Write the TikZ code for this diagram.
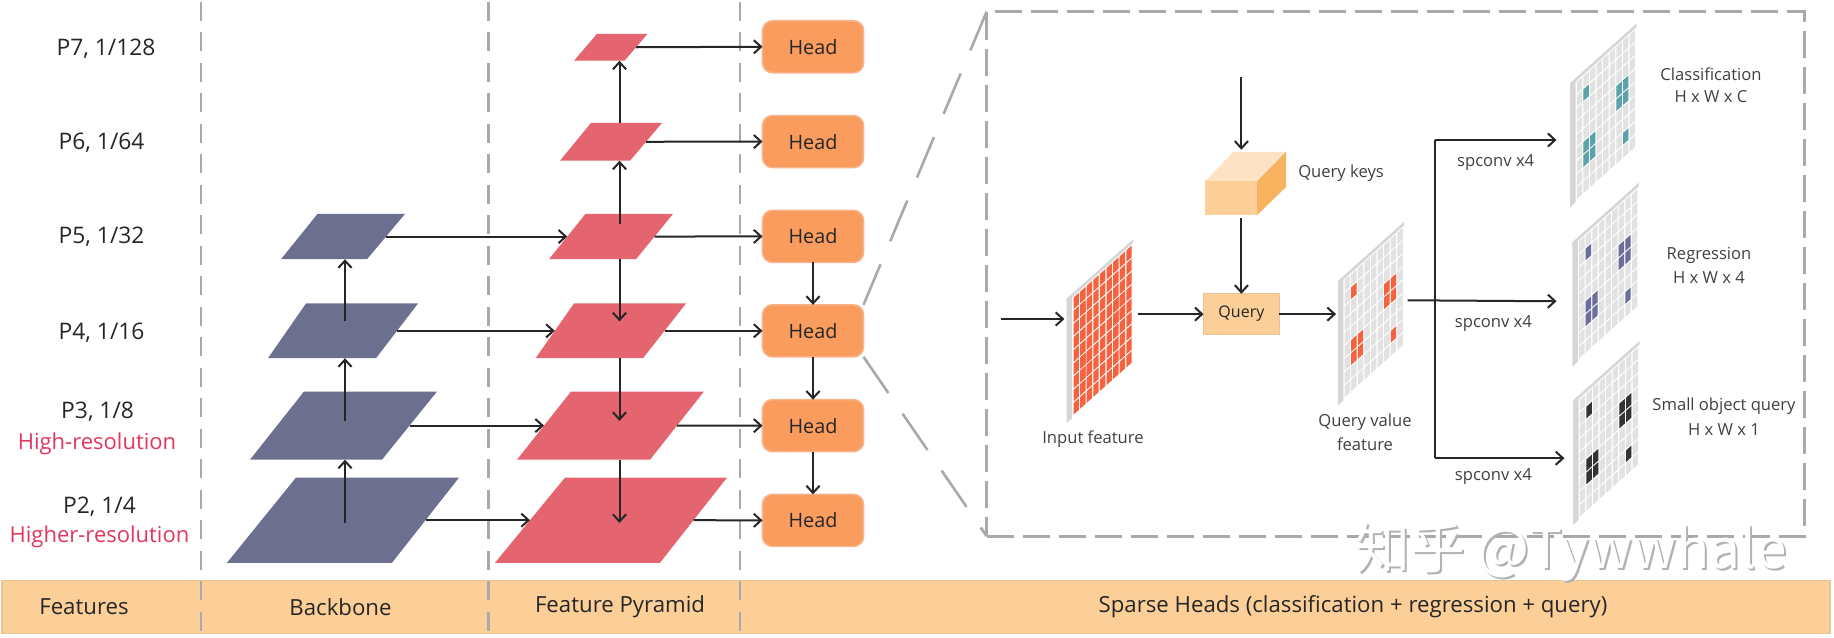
\documentclass[tikz,border=0pt]{standalone}
\usepackage{fontspec}
\setmainfont{Open Sans}
\newfontfamily\wmfont{Noto Sans CJK SC}
\usetikzlibrary{arrows.meta}
\definecolor{barc}{HTML}{FBCF97}
\definecolor{bluep}{HTML}{6C6F8D}
\definecolor{redp}{HTML}{E4646F}
\definecolor{headc}{HTML}{FA9C5E}
\definecolor{headl}{HTML}{F8B288}
\definecolor{dashc}{HTML}{A9A9A9}
\definecolor{pinkt}{HTML}{E2365F}
\definecolor{cubetop}{HTML}{FDE3C4}
\definecolor{cubeside}{HTML}{F6B25E}
\definecolor{hotred}{HTML}{F4623F}
\definecolor{hotteal}{HTML}{5BA3AB}
\definecolor{hotblue}{HTML}{6C6F9E}
\definecolor{hotblack}{HTML}{333333}
\definecolor{cellg}{HTML}{E2E2E2}
\definecolor{edgeg}{HTML}{D6D6D6}
\definecolor{txtd}{HTML}{262626}
\definecolor{txtg}{HTML}{404040}
\tikzset{
  arr/.style={-{Straight Barb[length=3.6pt,width=6.6pt]},line width=1pt,black!85},
  lab/.style={font=\fontsize{11.4}{13}\selectfont,text=txtd,inner sep=0pt,yshift=-0.8pt},
  pinklab/.style={font=\fontsize{11}{13}\selectfont,text=pinkt,inner sep=0pt,yshift=-0.8pt},
  barlab/.style={font=\fontsize{11.1}{13}\selectfont,text=txtd,inner sep=0pt},
  small/.style={font=\fontsize{8.3}{10}\selectfont,text=txtg,inner sep=0pt},
  headbox/.style={draw=headl,line width=0.8pt,fill=headc,rounded corners=5pt,minimum width=50.5pt,minimum height=26pt,inner sep=0pt,outer sep=0pt,font=\fontsize{9.9}{12}\selectfont,text=txtd},
  vdash/.style={dashc,line width=1.2pt,dash pattern=on 9.5pt off 5.75pt},
  diag/.style={dashc,line width=1.3pt,dash pattern=on 22pt off 12.5pt},
  anchorbox/.style={inner sep=0pt,outer sep=0pt}
}
% parallelogram: name, colour, top y, bottom y, top-left x, top-right x, bottom-left x, bottom-right x
\newcommand{\parag}[8]{%
  \fill[#2] (#5,#3) -- (#6,#3) -- (#8,#4) -- (#7,#4) -- cycle;
  \pgfmathsetmacro{\pcx}{(#5+#6+#7+#8)/4}
  \pgfmathsetmacro{\pcy}{(#3+#4)/2}
  \pgfmathsetmacro{\pw}{((#6+#8)-(#5+#7))/4}
  \pgfmathsetmacro{\ph}{(#4-#3)*0.4975}
  \node[anchorbox,minimum width=\pw pt,minimum height=\ph pt] (#1) at (\pcx,\pcy) {};
}
% feature plate: name, x, y, base cell colour, hot cell colour
\newcommand{\plate}[5]{%
  \begin{scope}[shift={(#2,#3)},yslant=0.894]
    \fill[edgeg] (0,0) rectangle (5.5,124.5);
    \fill[edgeg] (0,-0.5) rectangle (66.5,3);
    \foreach \i in {0,...,8}{\foreach \j in {0,...,8}{
      \fill[#4] ({6.8+6.6*\i},{4.6+13.25*\j}) rectangle ++(5.4,11.6);
    }}
    \foreach \i/\j in {1/1,6/3,7/3,6/4,7/4,1/5,2/5,1/6,2/6,7/7}{
      \fill[#5] ({6.8+6.6*\i},{4.6+13.25*\j}) rectangle ++(5.4,11.6);
    }
  \end{scope}
  \node[anchorbox,minimum width=33pt,minimum height=61pt] (#1) at ({#2+33},{#3+32.5}) {};
}
\begin{document}
\begin{tikzpicture}[x=0.5pt,y=-0.4975pt]
\useasboundingbox (0,0) rectangle (1834,641.2);
\fill[white] (0,0) rectangle (1834,641.2);
% bottom bar
\node[anchorbox,fill=barc,draw=barc!85!gray,line width=0.6pt,minimum width=914pt,minimum height=26.8pt] (bar) at (916,610) {};
% column separators
\coordinate (va0) at (201,2); \coordinate (va1) at (201,637);
\coordinate (vb0) at (488.5,2); \coordinate (vb1) at (488.5,637);
\coordinate (vc0) at (740,2); \coordinate (vc1) at (740,637);
\draw[vdash] (va0) -- (va1);
\draw[vdash] (vb0) -- (vb1);
\draw[vdash] (vc0) -- (vc1);
% left labels
\node[lab] (l7) at (106,47) {P7, 1/128};
\node[lab] (l6) at (101.6,141.5) {P6, 1/64};
\node[lab] (l5) at (101.6,236.5) {P5, 1/32};
\node[lab] (l4) at (101.6,332.5) {P4, 1/16};
\node[lab] (l3) at (97.6,412) {P3, 1/8};
\node[pinklab] (l3b) at (97,444) {High-resolution};
\node[lab] (l2) at (99.5,508) {P2, 1/4};
\node[pinklab] (l2b) at (99.5,538) {Higher-resolution};
% bar labels
\node[barlab] (t1) at (84,610) {Features};
\node[barlab] (t2) at (340.5,610) {Backbone};
\node[barlab] (t3) at (620,610) {Feature Pyramid};
\node[barlab] (t4) at (1353,610) {Sparse Heads (classification + regression + query)};
% backbone
\parag{b5}{bluep}{215}{260.5}{317.5}{405}{281}{367}
\parag{b4}{bluep}{305}{360}{306}{418}{268}{376}
\parag{b3}{bluep}{393.5}{462}{304}{437}{250}{382}
\parag{b2}{bluep}{480}{565.6}{296}{459}{227}{392}
% pyramid
\parag{r7}{redp}{34}{61}{597}{647.5}{574}{624.6}
\parag{r6}{redp}{123.5}{161.5}{591}{662}{560}{630}
\parag{r5}{redp}{215}{260.5}{585.5}{673}{549}{636}
\parag{r4}{redp}{305}{360}{574}{686}{535.6}{643}
\parag{r3}{redp}{393.5}{462}{571}{704}{517}{650}
\parag{r2}{redp}{480}{565.6}{565}{727}{495}{660}
% heads
\node[headbox] (h7) at (813,47) {Head};
\node[headbox] (h6) at (813,142.3) {Head};
\node[headbox] (h5) at (813,237.6) {Head};
\node[headbox] (h4) at (813,332.5) {Head};
\node[headbox] (h3) at (813,427.8) {Head};
\node[headbox] (h2) at (813,523) {Head};
% spines
\coordinate (bs) at (345,0);
\coordinate (rs) at (619.5,0);
\coordinate (bs2) at (345,525.6); \coordinate (bs3) at (345,423); \coordinate (bs4) at (345,323);
\coordinate (rs5) at (619.5,225); \coordinate (rs4) at (619.5,323); \coordinate (rs3) at (619.5,423); \coordinate (rs2) at (619.5,525.6);
% backbone arrows
\draw[arr] (bs2) -- (bs |- b3.south);
\draw[arr] (bs3) -- (bs |- b4.south);
\draw[arr] (bs4) -- (bs |- b5.south);
% pyramid vertical arrows
\draw[arr] (rs |- r6.north) -- (rs |- r7.south);
\draw[arr] (rs5) -- (rs |- r6.south);
\draw[arr] (rs |- r5.south) -- (rs4);
\draw[arr] (rs |- r4.south) -- (rs3);
\draw[arr] (rs |- r3.south) -- (rs2);
% lateral arrows
\draw[arr] (b5.east) -- (r5.west);
\draw[arr] (b4.east) -- (r4.west);
\draw[arr] (b3.east) -- (r3.west);
\draw[arr] (b2.east) -- (r2.west);
\draw[arr] (r7.east) -- (h7.west);
\draw[arr] (r6.east) -- (h6.west);
\draw[arr] (r5.east) -- (h5.west);
\draw[arr] (r4.east) -- (h4.west);
\draw[arr] (r3.east) -- (h3.west);
\draw[arr] (r2.east) -- (h2.west);
\draw[arr] (h5.south) -- (h4.north);
\draw[arr] (h4.south) -- (h3.north);
\draw[arr] (h3.south) -- (h2.north);
% detail frame
\node[anchorbox,draw=dashc,line width=1.5pt,dash pattern=on 13.5pt off 4.5pt,minimum width=408.7pt,minimum height=262.2pt] (det) at (1395.3,275.3) {};
\draw[diag] (h4.north east) -- (det.north west);
\draw[diag] (h4.south east) -- (det.south west);
% plates
\plate{inp}{1066.7}{300.6}{hotred}{hotred}
\plate{val}{1337.8}{283}{cellg}{hotred}
\plate{cls}{1570}{84}{cellg}{hotteal}
\plate{reg}{1572.3}{244}{cellg}{hotblue}
\plate{sma}{1573}{403}{cellg}{hotblack}
% query keys cube
\fill[cubetop] (1205.4,182) -- (1257.2,182) -- (1286,152.6) -- (1233.5,152.6) -- cycle;
\fill[cubeside] (1257.2,182) -- (1286,152.6) -- (1286,188) -- (1257.2,216) -- cycle;
\node[anchorbox,fill=barc,minimum width=26pt,minimum height=16.9pt] (qk) at (1231.3,199) {};
\node[anchorbox,fill=barc,draw=barc!85!gray,line width=0.5pt,minimum width=37.8pt,minimum height=20.3pt,font=\fontsize{8}{10}\selectfont,text=txtd] (qb) at (1241.4,315.7) {Query};
% free ends
\coordinate (topin) at (1241.4,77.7);
\coordinate (qktop) at (1241.4,150.5);
\coordinate (qkbot) at (1241.4,219);
\coordinate (inS) at (1000.7,320.6); \coordinate (inE) at (1064.4,320.6);
\coordinate (inO) at (1137.7,315.7);
\coordinate (valW) at (1336,315.7);
\coordinate (valE) at (1407.7,301.8);
\coordinate (brT) at (1434.8,140.7); \coordinate (brB) at (1434.8,460.5);
\coordinate (clsW) at (1556.5,140.7);
\coordinate (regW) at (1556.5,302.8);
\coordinate (smaW) at (1564.4,460.5);
\draw[arr] (topin) -- (qktop);
\draw[arr] (qkbot) -- (qb.north);
\draw[arr] (inS) -- (inE);
\draw[arr] (inO) -- (qb.west);
\draw[arr] (qb.east) -- (valW);
\draw[arr] (valE) -- (regW);
\draw[arr] (brT) -- (clsW);
\draw[arr] (brB) -- (smaW);
\draw[line width=1pt,black!85] (brT) -- (brB);
% small labels
\node[small] (tqk) at (1341,174) {Query keys};
\node[small] (tin) at (1093,441.7) {Input feature};
\node[small] (tv1) at (1365,424) {Query value};
\node[small] (tv2) at (1365,446.6) {feature};
\node[small] (ts1) at (1495.7,163.6) {spconv x4};
\node[small] (ts2) at (1493.4,324.7) {spconv x4};
\node[small] (ts3) at (1493.4,478.5) {spconv x4};
\node[small] (tc1) at (1711,75) {Classification};
\node[small] (tc2) at (1711,97.3) {H x W x C};
\node[small] (tr1) at (1709,256.4) {Regression};
\node[small] (tr2) at (1709,279.3) {H x W x 4};
\node[small] (to1) at (1724,408) {Small object query};
\node[small] (to2) at (1724,431.5) {H x W x 1};
% overlaid mark
\node[inner sep=0pt,text=black!30,font=\wmfont\fontsize{27.4}{32}\selectfont] (wm0) at (1573,557) {知乎 @Tywwhale};
\node[inner sep=0pt,text=white,font=\wmfont\fontsize{27.4}{32}\selectfont] (wm1) at (1571,555) {知乎 @Tywwhale};
\end{tikzpicture}
\end{document}
